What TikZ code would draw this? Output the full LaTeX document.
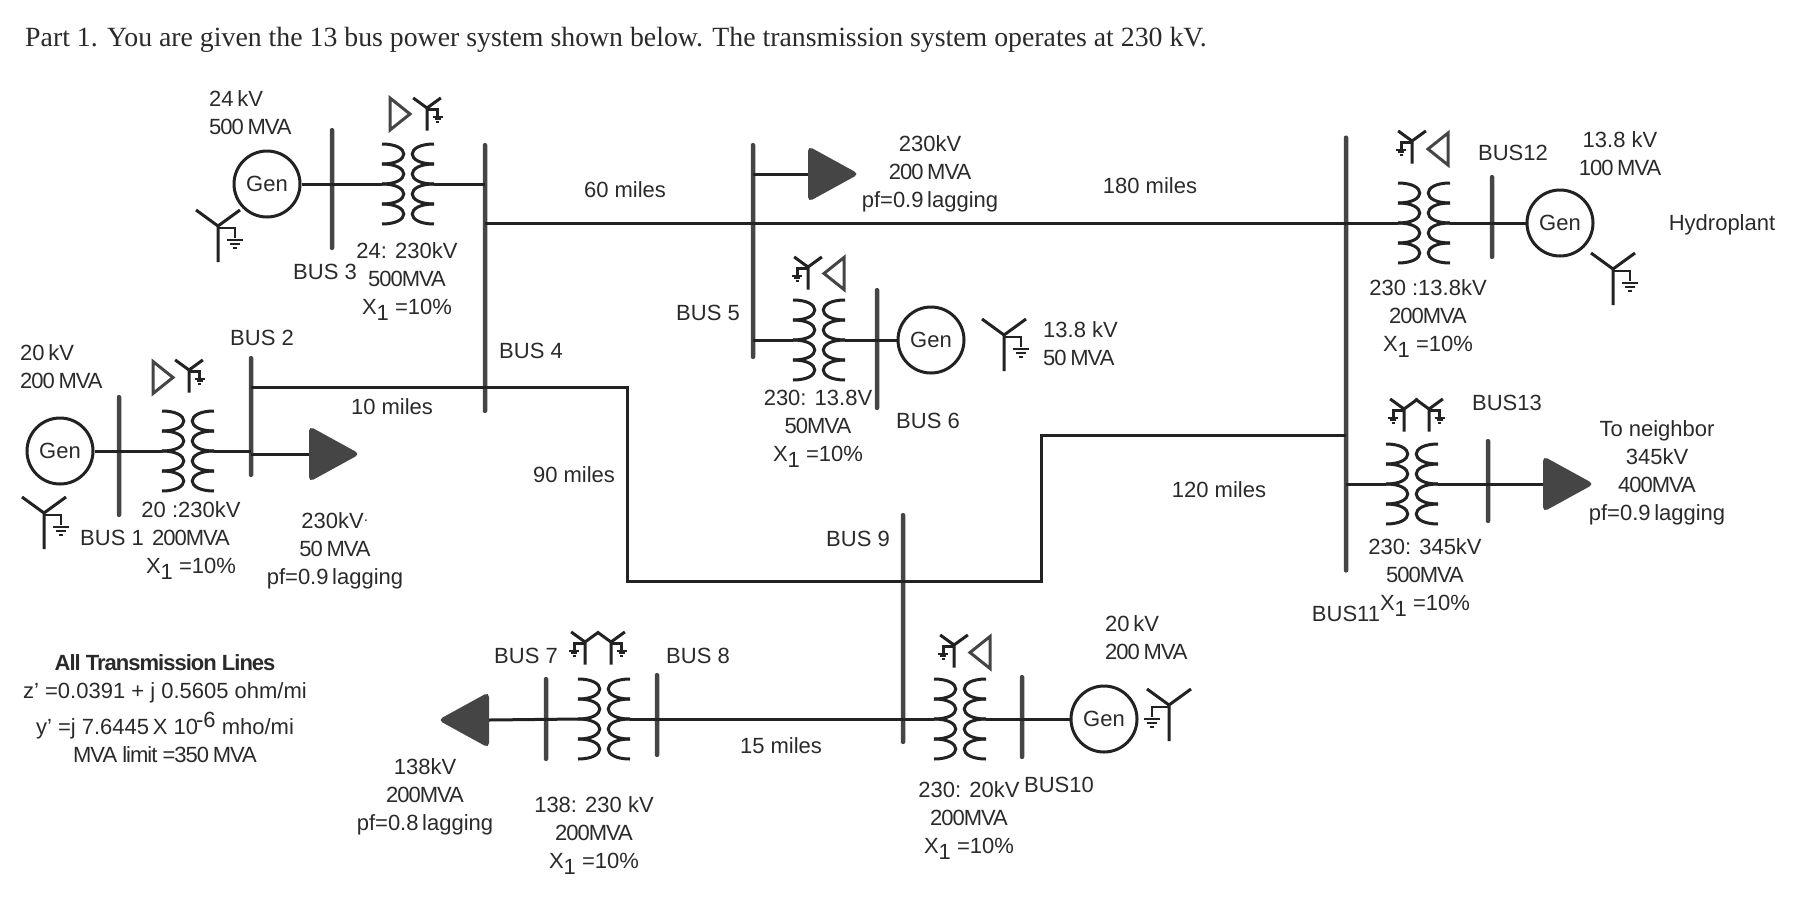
\documentclass[tikz,border=0pt]{standalone}
\usepackage{fontspec}
\usepackage{tikz}
\setmainfont{Liberation Sans}
\newfontfamily\titlefont{Liberation Serif}
\newfontfamily\tightfont[LetterSpace=-4.5]{Liberation Sans}
\definecolor{barcol}{HTML}{454545}
\definecolor{wirecol}{HTML}{222222}
\definecolor{inkcol}{HTML}{2A2A2A}
\newcommand{\xone}{X\raisebox{-6pt}[0pt][0pt]{1}}

\begin{document}
\begin{tikzpicture}[x=1pt, y=-1pt,
	wire/.style={draw=wirecol, line width=3pt},
	bus node/.style={rectangle, fill=barcol, minimum width=4.5pt, minimum height=#1, inner sep=0pt, rounded corners=2pt},
	gen node/.style={circle, draw=wirecol, line width=3pt, minimum size=66pt, inner sep=0pt, text=inkcol, text depth=0pt, font=\fontsize{22}{28}\selectfont},
	text node/.style={align=center, inner sep=0pt, text=inkcol, font=\fontsize{22}{28}\selectfont},
	small wye/.style={scale=.63},
	small flip/.style={xscale=-.63, yscale=.63},
	flip/.style={xscale=-1},
	xfmr/.pic={
		\foreach \a in {-40,-20,0,20} {
			\draw[wire] (-26,\a) .. controls (3,\a) and (3,\a+20) .. (-26,\a+20);
			\draw[wire] (26,\a) .. controls (-3,\a) and (-3,\a+20) .. (26,\a+20);
		}
		\coordinate (-a) at (-26,0);
		\coordinate (-b) at (26,0);
	},
	wye/.pic={
		\draw[draw=wirecol, line width=3pt] (-22,-16) -- (0,0) -- (22,-16) (0,0) -- (0,36);
		\draw[draw=wirecol, line width=2.5pt] (0,2) -- (17,2) -- (17,12);
		\draw[draw=wirecol, line width=2pt] (9,14) -- (25,14) (12,18) -- (22,18) (15,22) -- (19,22);
	},
	delta/.pic={
		\draw[draw=barcol, line width=3pt] (-10,-16) -- (10,0) -- (-10,16) -- cycle;
	},
	loadpt/.pic={
		\fill[barcol, rounded corners=5pt] (0,-28) -- (51,0) -- (0,28) -- cycle;
		\coordinate (-a) at (0,0);
	}]

	\useasboundingbox (0,0) rectangle (1801,906);

	\node[anchor=base west, inner sep=0pt, text=inkcol, font=\titlefont\fontsize{27.8}{32}\selectfont] (title) at (25,46)
		{Part 1.  You are given the 13 bus power system shown below. The transmission system operates at 230 kV.};

	% bus bars
	\node[bus node=122pt] (b1) at (119,456) {};
	\node[bus node=121pt] (b2) at (251,416.5) {};
	\node[bus node=122pt] (b3) at (332,189) {};
	\node[bus node=270pt] (b4) at (485,278) {};
	\node[bus node=216pt] (b5) at (753,251) {};
	\node[bus node=122pt] (b6) at (877,349) {};
	\node[bus node=84pt] (b7) at (546,719) {};
	\node[bus node=84pt] (b8) at (657,715) {};
	\node[bus node=231pt] (b9) at (903,628.5) {};
	\node[bus node=84pt] (b10) at (1022,717) {};
	\node[bus node=437pt] (b11) at (1346,354) {};
	\node[bus node=84pt] (b12) at (1492,217) {};
	\node[bus node=84pt] (b13) at (1488,481) {};

	% generators
	\node[gen node] (g1) at (60,451) {Gen};
	\node[gen node] (g3) at (267,184) {Gen};
	\node[gen node] (g6) at (931,340) {Gen};
	\node[gen node] (g10) at (1104,719) {Gen};
	\node[gen node] (g12) at (1560,223) {Gen};

	% transformers
	\pic (t1) at (188,451) {xfmr};
	\pic (t3) at (408,184) {xfmr};
	\pic (t5) at (819,340) {xfmr};
	\pic (t7) at (604,719) {xfmr};
	\pic (t10) at (960,719) {xfmr};
	\pic (t12) at (1424,223) {xfmr};
	\pic (t13) at (1412,484) {xfmr};

	% loads
	\pic (ld1) at (309,454) {loadpt};
	\pic (ld5) at (808,174) {loadpt};
	\pic[flip] (ld7) at (489,720) {loadpt};
	\pic (ld13) at (1543,484) {loadpt};

	% winding symbols
	\pic (wg1) at (44,513) {wye};
	\pic (wg3) at (218,226) {wye};
	\pic (wg6) at (1004,335) {wye};
	\pic[flip] (wg10) at (1169,705) {wye};
	\pic (wg12) at (1613,269) {wye};
	\pic[small wye] (w1) at (189,370) {wye};
	\pic[small wye] (w3) at (427,108) {wye};
	\pic[small flip] (w5) at (808,267) {wye};
	\pic[small flip] (w7a) at (585,642) {wye};
	\pic[small wye] (w7b) at (611,642) {wye};
	\pic[small flip] (w10) at (954,645) {wye};
	\pic[small flip] (w12) at (1412,141) {wye};
	\pic[small flip] (w13a) at (1404,409) {wye};
	\pic[small wye] (w13b) at (1429,409) {wye};
	\pic (d1) at (163,377.5) {delta};
	\pic (d3) at (400,114) {delta};
	\pic[flip] (d5) at (834,273.5) {delta};
	\pic[flip] (d10) at (980,652.5) {delta};
	\pic[flip] (d12) at (1438,149) {delta};

	\coordinate (k1) at (627,387);
	\coordinate (k2) at (627,581);
	\coordinate (k3) at (1041,581);
	\coordinate (k4) at (1041,435);

	% lines
	\draw[wire] (g1) -- (t1-a);
	\draw[wire] (t1-b) -- (b2 |- t1-b);
	\draw[wire] (b2 |- ld1-a) -- (ld1-a);
	\draw[wire] (g3) -- (t3-a);
	\draw[wire] (t3-b) -- (b4 |- t3-b);
	\draw[wire] (b2 |- k1) -- (k1) -- (k2) -- (k3) -- (k4) -- (b11 |- k4);
	\draw[wire] (b4 |- t12-a) -- (t12-a);
	\draw[wire] (t12-b) -- (g12);
	\draw[wire] (b5 |- ld5-a) -- (ld5-a);
	\draw[wire] (b5 |- t5-a) -- (t5-a);
	\draw[wire] (t5-b) -- (g6);
	\draw[wire] (ld7-a) -- (t7-a);
	\draw[wire] (t7-b) -- (t10-a);
	\draw[wire] (t10-b) -- (g10);
	\draw[wire] (b11 |- t13-a) -- (t13-a);
	\draw[wire] (t13-b) -- (ld13-a);

	% labels
	\node[text node, anchor=west, align=left] (v3) at (209,113) {24\,kV\\\tightfont 500\,MVA};
	\node[text node] (n3) at (325,272) {BUS 3};
	\node[text node] (x3) at (407,279) {24:  230kV\\\tightfont 500MVA\\\xone{} =10\%};
	\node[text node] (n2) at (262,338) {BUS 2};
	\node[text node, anchor=west, align=left] (v1) at (20,367) {20\,kV\\\tightfont 200\,MVA};
	\node[text node] (m10) at (392,407) {10 miles};
	\node[text node] (x1) at (191,538) {20 :230kV\\\tightfont 200MVA\\\xone{} =10\%};
	\node[text node] (n1) at (112,538) {BUS 1};
	\node[text node] (s1) at (335,551) {230kV\textsuperscript{.}\\\tightfont 50\,MVA\\pf=0.9\,lagging};
	\node[text node] (n4) at (531,351) {BUS 4};
	\node[text node] (m60) at (625,190) {60 miles};
	\node[text node] (m90) at (574,475) {90 miles};
	\node[text node] (s5) at (930,174) {230kV\\\tightfont 200\,MVA\\pf=0.9\,lagging};
	\node[text node] (m180) at (1150,186) {180 miles};
	\node[text node] (n5) at (708,313) {BUS 5};
	\node[text node] (x5) at (818,426) {230: 13.8V\\\tightfont 50MVA\\\xone{} =10\%};
	\node[text node] (n6) at (928,421) {BUS 6};
	\node[text node, anchor=west, align=left] (v6) at (1043,344) {13.8 kV\\\tightfont 50\,MVA};
	\node[text node] (n9) at (858,539) {BUS 9};
	\node[text node] (m120) at (1219,490) {120 miles};
	\node[text node] (n12) at (1513,153) {BUS12};
	\node[text node] (v12) at (1620,154) {13.8 kV\\\tightfont 100\,MVA};
	\node[text node] (hydro) at (1722,225) {Hydroplant};
	\node[text node] (x12) at (1428,316) {230 :13.8kV\\\tightfont 200MVA\\\xone{} =10\%};
	\node[text node] (n13) at (1507,403) {BUS13};
	\node[text node] (s13) at (1657,473) {To neighbor\\345kV\\\tightfont 400MVA\\pf=0.9\,lagging};
	\node[text node] (x13) at (1425,575) {230: 345kV\\\tightfont 500MVA\\\xone{} =10\%};
	\node[text node] (n11) at (1346,614) {BUS11};
	\node[text node] (params) at (165,709) {{\bfseries\tightfont All Transmission Lines}\\z' =0.0391 + j 0.5605 ohm/mi\\[8pt]y' =j 7.6445\,X 10\kern-2pt\raisebox{7pt}{-6} mho/mi\\\tightfont MVA limit =350\,MVA};
	\node[text node] (s7) at (425,797) {138kV\\\tightfont 200MVA\\pf=0.8\,lagging};
	\node[text node] (n7) at (526,656) {BUS 7};
	\node[text node] (n8) at (698,656) {BUS 8};
	\node[text node] (x7) at (594,833) {138: 230 kV\\\tightfont 200MVA\\\xone{} =10\%};
	\node[text node] (m15) at (781,746) {15 miles};
	\node[text node] (x10) at (969,818) {230: 20kV\\\tightfont 200MVA\\\xone{} =10\%};
	\node[text node] (n10) at (1059,785) {BUS10};
	\node[text node, anchor=west, align=left] (v10) at (1105,638) {20\,kV\\\tightfont 200\,MVA};
\end{tikzpicture}
\end{document}
